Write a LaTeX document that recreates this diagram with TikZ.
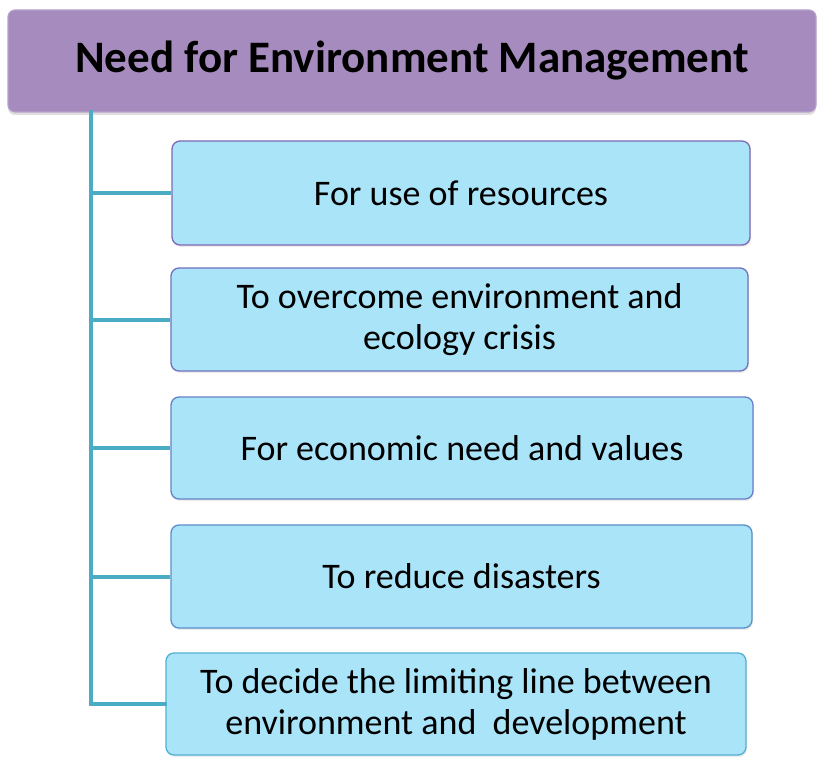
\documentclass[tikz,border=0pt]{standalone}
\usepackage{fontspec}
\setmainfont{Carlito}
\usetikzlibrary{shadows}
\definecolor{titlefill}{HTML}{A68BBE}
\definecolor{titledraw}{HTML}{B7A1CB}
\definecolor{boxfill}{HTML}{AAE4F8}
\definecolor{linecol}{HTML}{4BACC6}
\definecolor{bdA}{HTML}{7E68B3}
\definecolor{bdB}{HTML}{7072BE}
\definecolor{bdC}{HTML}{6581C6}
\definecolor{bdD}{HTML}{5A8FCB}
\definecolor{bdE}{HTML}{52B0D2}
\tikzset{
  titlebox/.style={draw=titledraw, fill=titlefill, line width=1.2pt, rounded corners=7pt,
    minimum width=808pt, minimum height=102pt, inner sep=0pt,
    font=\fontsize{45}{52}\selectfont\bfseries,
    drop shadow={shadow xshift=0pt, shadow yshift=-3pt, opacity=0.25}},
  itembox/.style={fill=boxfill, line width=1.3pt, rounded corners=8pt, inner sep=0pt,
    align=center, font=\fontsize{36}{41}\selectfont,
    drop shadow={shadow xshift=1pt, shadow yshift=-2pt, opacity=0.15}},
  conn/.style={draw=linecol, line width=4pt}
}
\begin{document}
\begin{tikzpicture}[x=1pt, y=-1pt]
\useasboundingbox (0,0) rectangle (823,765);
\node[titlebox] (title) at (412,61) {Need for Environment Management};
\node[itembox, draw=bdA, minimum width=578pt, minimum height=104pt] (b1) at (461,193) {For use of resources};
\node[itembox, draw=bdB, minimum width=577pt, minimum height=103pt] (b2) at (459.5,319.5) {To overcome environment and\\ecology crisis};
\node[itembox, draw=bdC, minimum width=582pt, minimum height=102pt] (b3) at (462,448) {For economic need and values};
\node[itembox, draw=bdD, minimum width=581pt, minimum height=103pt] (b4) at (461.5,576.5) {To reduce disasters};
\node[itembox, draw=bdE, minimum width=580pt, minimum height=102pt] (b5) at (456,704) {To decide the limiting line between\\environment and~ development};
\coordinate (top) at (91,112);
\draw[conn, line cap=rect] (top) |- (b5.west);
\draw[conn] (b1.west -| top) -- (b1.west);
\draw[conn] (b2.west -| top) -- (b2.west);
\draw[conn] (b3.west -| top) -- (b3.west);
\draw[conn] (b4.west -| top) -- (b4.west);
\end{tikzpicture}
\end{document}
